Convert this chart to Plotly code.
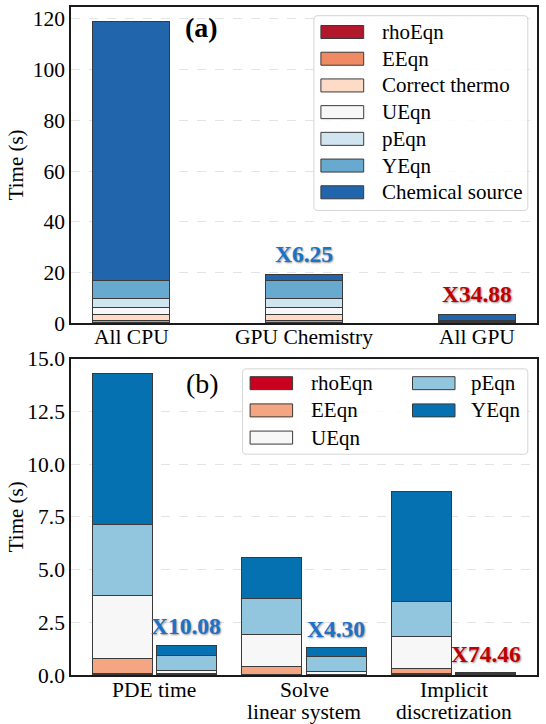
import plotly.graph_objects as go

# ---------- Data ----------
# (a) whole solver, time per part (s)
TOP_CASES = ["All CPU", "GPU Chemistry", "All GPU"]
TOP_PARTS = ["rhoEqn", "EEqn", "Correct thermo", "UEqn", "pEqn", "YEqn", "Chemical source"]
TOP_COLORS = ["#b2182b", "#ef8a62", "#fddbc7", "#f7f7f7", "#d1e5f0", "#67a9cf", "#2166ac"]
all_cpu = [0.30, 0.73, 2.52, 2.76, 3.39, 7.26, 101.84]
gpu_chem = [0.30, 0.73, 2.52, 2.76, 3.39, 7.26, 2.09]
all_gpu = [0.05, 0.10, 0.10, 0.30, 0.20, 0.16, 2.50]
TOP_SPEEDUP = ["", "X6.25", "X34.88"]

# (b) PDE part, CPU vs GPU, time per part (s)
BOT_GROUPS = ["PDE time", "Solve<br>linear system", "Implicit<br>discretization"]
BOT_PARTS = ["rhoEqn", "EEqn", "UEqn", "pEqn", "YEqn"]
BOT_COLORS = ["#ca0020", "#f4a582", "#f7f7f7", "#92c5de", "#0571b0"]
cpu_pde = [0.08, 0.68, 3.02, 3.37, 7.17]
gpu_pde = [0.02, 0.03, 0.17, 0.70, 0.50]
cpu_solve = [0.01, 0.40, 1.52, 1.72, 1.94]
gpu_solve = [0.00, 0.02, 0.16, 0.71, 0.41]
cpu_impl = [0.08, 0.25, 1.49, 1.66, 5.21]
gpu_impl = [0.005, 0.005, 0.02, 0.02, 0.067]
BOT_SPEEDUP = ["X10.08", "X4.30", "X74.46"]

BLUE_TXT = "#1a72c9"
RED_TXT = "#c00000"
TOP_SPEEDUP_COLORS = [BLUE_TXT, BLUE_TXT, RED_TXT]
BOT_SPEEDUP_COLORS = [BLUE_TXT, BLUE_TXT, RED_TXT]

SERIF = "Liberation Serif, Times New Roman, serif"
EDGE = dict(color="#3a3a3a", width=1)

W, H = 546, 724
L, R, T, B = 70.7, 536.7, 7.3, 675.0


def px_x(p):
    return (p - L) / (R - L)


def px_y(p):
    return (B - p) / (B - T)


fig = go.Figure()

# ---------- (a) stacked bars ----------
top_cases_vals = [all_cpu, gpu_chem, all_gpu]
for i, part in enumerate(TOP_PARTS):
    fig.add_trace(go.Bar(
        x=TOP_CASES, y=[vals[i] for vals in top_cases_vals],
        name=part, marker=dict(color=TOP_COLORS[i], line=EDGE),
        width=0.45, xaxis="x", yaxis="y", showlegend=False))

# ---------- (b) grouped stacked bars ----------
cpu_sets = [cpu_pde, cpu_solve, cpu_impl]
gpu_sets = [gpu_pde, gpu_solve, gpu_impl]
OFF = 0.214
xpos = [g - OFF for g in range(3)] + [g + OFF for g in range(3)]
for i, part in enumerate(BOT_PARTS):
    yv = [s[i] for s in cpu_sets] + [s[i] for s in gpu_sets]
    fig.add_trace(go.Bar(
        x=xpos, y=yv, name=part,
        marker=dict(color=BOT_COLORS[i], line=EDGE),
        width=0.4, xaxis="x2", yaxis="y2", showlegend=False))

annotations = []
shapes = []
shadow = "1px 1px 2px rgba(0,0,0,0.45)"
TICK_FONT = dict(family=SERIF, size=21.5, color="black")

# speed-up labels
for k, txt in enumerate(TOP_SPEEDUP):
    if not txt:
        continue
    total = sum(top_cases_vals[k])
    annotations.append(dict(
        x=TOP_CASES[k], y=total + 8.2, xref="x", yref="y", text=txt, showarrow=False,
        xanchor="center", yanchor="middle",
        font=dict(family=SERIF, size=23.5, color=TOP_SPEEDUP_COLORS[k], weight="bold", shadow=shadow)))
for k, txt in enumerate(BOT_SPEEDUP):
    total = sum(gpu_sets[k])
    annotations.append(dict(
        x=k + OFF, y=total + 0.9, xref="x2", yref="y2", text=txt, showarrow=False,
        xanchor="center", yanchor="middle",
        font=dict(family=SERIF, size=23.5, color=BOT_SPEEDUP_COLORS[k], weight="bold", shadow=shadow)))

# category labels (drawn as text so the two-line ones sit tight like the original)
for k, name in enumerate(TOP_CASES):
    annotations.append(dict(x=name, y=px_y(337.5), xref="x", yref="paper", text=name,
                            showarrow=False, xanchor="center", yanchor="middle", font=TICK_FONT))
for k, name in enumerate(BOT_GROUPS):
    for j, line in enumerate(name.split("<br>")):
        annotations.append(dict(x=k, y=px_y(690 + 21.5 * j), xref="x2", yref="paper", text=line,
                                showarrow=False, xanchor="center", yanchor="middle", font=TICK_FONT))

# panel tags
annotations.append(dict(x=px_x(201), y=px_y(28), xref="paper", yref="paper", text="(a)",
                        xanchor="center", yanchor="middle", showarrow=False,
                        font=dict(family=SERIF, size=28, color="black", weight="bold")))
annotations.append(dict(x=px_x(202), y=px_y(384), xref="paper", yref="paper", text="(b)",
                        xanchor="center", yanchor="middle", showarrow=False,
                        font=dict(family=SERIF, size=28, color="black")))

# y titles
for yc in (165.3, 517.0):
    annotations.append(dict(x=px_x(16), y=px_y(yc), xref="paper", yref="paper", text="Time (s)",
                            textangle=-90, showarrow=False, xanchor="center", yanchor="middle",
                            font=dict(family=SERIF, size=21, color="black")))


# ---------- manual legends ----------
def legend_box(x0, y0, x1, y1, r=4.0):
    # rounded frame, built in pixels then mapped to paper units
    pts = [
        ("M", x0 + r, y0), ("L", x1 - r, y0), ("Q", x1, y0, x1, y0 + r),
        ("L", x1, y1 - r), ("Q", x1, y1, x1 - r, y1),
        ("L", x0 + r, y1), ("Q", x0, y1, x0, y1 - r),
        ("L", x0, y0 + r), ("Q", x0, y0, x0 + r, y0),
    ]
    parts = []
    for p in pts:
        cmd, vals = p[0], p[1:]
        coords = []
        for a, b in zip(vals[::2], vals[1::2]):
            coords.append(f"{px_x(a):.5f},{px_y(b):.5f}")
        parts.append(cmd + " ".join(coords))
    shapes.append(dict(type="path", xref="paper", yref="paper", path=" ".join(parts) + " Z",
                       line=dict(color="#d4d4d4", width=1), fillcolor="rgba(255,255,255,0.85)",
                       layer="above"))


def legend_item(sx0, sx1, yc, tx, color, label):
    shapes.append(dict(type="rect", xref="paper", yref="paper",
                       x0=px_x(sx0), x1=px_x(sx1), y0=px_y(yc + 6.5), y1=px_y(yc - 6.5),
                       line=dict(color="#3a3a3a", width=1), fillcolor=color, layer="above"))
    annotations.append(dict(x=px_x(tx), y=px_y(yc), xref="paper", yref="paper", text=label,
                            xanchor="left", yanchor="middle", showarrow=False,
                            font=dict(family=SERIF, size=21, color="black")))


legend_box(313.6, 16.0, 527.5, 210.7)
for i, part in enumerate(TOP_PARTS):
    legend_item(320.6, 363.4, 32.3 + 26.7 * i, 379.8, TOP_COLORS[i], part)

legend_box(242.2, 369.0, 527.5, 454.3)
for i, part in enumerate(BOT_PARTS):
    col, row = divmod(i, 3)
    sx0 = 249.8 if col == 0 else 412.2
    tx = 309.0 if col == 0 else 469.0
    legend_item(sx0, sx0 + 42.5, 383.3 + 27.2 * row, tx, BOT_COLORS[i], part)

axis_common = dict(showline=True, linecolor="#1a1a1a", linewidth=1.5, mirror=True, ticks="",
                   tickfont=TICK_FONT, zeroline=False, automargin=False)

fig.update_layout(
    width=W, height=H,
    margin=dict(l=L, r=W - R, t=T, b=H - B, pad=0),
    barmode="stack",
    paper_bgcolor="white", plot_bgcolor="white",
    font=dict(family=SERIF, color="black"),
    showlegend=False,
    xaxis=dict(domain=[0, 1], anchor="y", range=[-0.3475, 2.3475], showgrid=False,
               showticklabels=False, **axis_common),
    yaxis=dict(domain=[px_y(323.3), 1], anchor="x", range=[0, 124.7], tickvals=[0, 20, 40, 60, 80, 100, 120],
               showgrid=True, gridcolor="#e4e4e4", griddash="dash", gridwidth=0.8, **axis_common),
    xaxis2=dict(domain=[0, 1], anchor="y2", range=[-0.555, 2.555], tickvals=[0, 1, 2],
                showgrid=False, showticklabels=False, **axis_common),
    yaxis2=dict(domain=[0, px_y(359.0)], anchor="x2", range=[0, 15],
                tickvals=[0, 2.5, 5, 7.5, 10, 12.5, 15], tickformat=".1f",
                showgrid=True, gridcolor="#e4e4e4", griddash="dash", gridwidth=0.8, **axis_common),
    annotations=annotations,
    shapes=shapes,
)

fig.write_html("out.html", config={"displayModeBar": False},
               post_script="document.body.style.margin='0';document.body.style.overflow='hidden';")
